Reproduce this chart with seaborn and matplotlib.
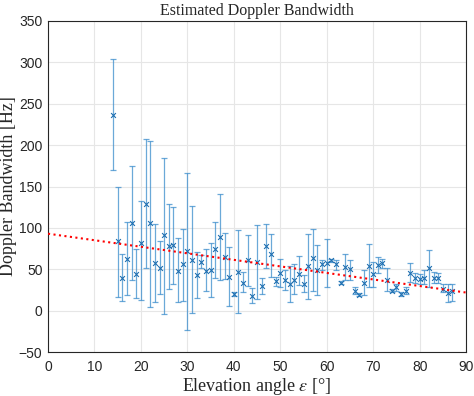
import numpy as np
import pandas as pd
import seaborn as sns
import matplotlib.pyplot as plt

# elevation angle [deg], estimated bandwidth [Hz], error bar ends [Hz]
elevation = [14, 15, 16, 17, 18, 19, 20, 21, 22, 23, 24, 25, 26, 27, 28, 29,
             30, 31, 32, 33, 34, 35, 36, 37, 38, 39, 40, 41, 42, 43, 44, 45,
             46, 47, 48, 49, 50, 51, 52, 53, 54, 55, 56, 57, 58, 59, 60, 61,
             62, 63, 64, 65, 66, 67, 68, 69, 70, 71, 72, 73, 74, 75, 76, 77,
             78, 79, 80, 81, 82, 83, 84, 85, 86, 87]
bandwidth = [237, 84, 40, 63, 106, 44, 82, 129, 106, 58, 52, 91, 78, 79, 48, 56,
             72, 61, 43, 59, 48, 49, 74, 89, 65, 41, 20, 47, 33, 61, 18, 59,
             30, 78, 68, 36, 46, 37, 32, 37, 44, 32, 54, 64, 49, 56, 58, 61,
             56, 34, 53, 50, 24, 19, 34, 54, 44, 55, 57, 37, 24, 28, 20, 24,
             46, 39, 38, 40, 51, 40, 40, 26, 21, 24]
upper = [304, 150, 69, 107, 175, 75, 132, 208, 205, 105, 84, 185, 129, 125, 88, 99,
         166, 126, 71, 67, 74, 82, 107, 141, 94, 77, 22, 98, 47, 91, 27, 104,
         39, 105, 93, 41, 62, 49, 54, 56, 66, 43, 93, 99, 79, 61, 86, 62,
         61, 36, 68, 61, 28, 21, 49, 80, 59, 65, 62, 51, 26, 32, 22, 28,
         58, 45, 44, 49, 73, 47, 45, 32, 32, 32]
lower = [170, 17, 12, 19, 37, 15, 13, 51, 5, 11, 20, -4, 26, 32, 11, 12,
         -23, -3, 15, 52, 24, 16, 39, 37, 38, 6, 18, -3, 22, 30, 9, 14,
         20, 51, 41, 30, 29, 25, 10, 20, 31, 22, 14, 24, 19, 49, 28, 59,
         49, 32, 37, 37, 20, 18, 19, 28, 29, 46, 51, 24, 22, 24, 18, 20,
         35, 34, 32, 32, 28, 34, 34, 22, 10, 12]

# linear fit shown in the figure
fit_intercept = 93.0
fit_slope = -0.79

df = pd.DataFrame({'elevation': elevation, 'bandwidth': bandwidth,
                   'upper': upper, 'lower': lower})
fit_x = np.array([0, 90])
df_fit = pd.DataFrame({'x': fit_x, 'y': fit_intercept + fit_slope * fit_x})

sns.set_theme(style='whitegrid')
plt.rcParams['font.family'] = ['Liberation Sans', 'DejaVu Sans']
plt.rcParams['mathtext.fontset'] = 'stix'

fig = plt.figure(figsize=(4.74, 3.96), dpi=100)
ax = fig.add_axes([0.1013, 0.111, 0.882, 0.836])

blue = '#3a8ccc'
yerr = [df['bandwidth'] - df['lower'], df['upper'] - df['bandwidth']]
ax.errorbar(df['elevation'], df['bandwidth'], yerr=yerr, fmt='none',
            ecolor=blue, elinewidth=0.9, capsize=2.5, capthick=0.9, alpha=0.75)
sns.scatterplot(data=df, x='elevation', y='bandwidth', marker='x', s=12,
                color='#1f6fb0', linewidth=0.8, ax=ax, zorder=3)
sns.lineplot(data=df_fit, x='x', y='y', color='red', linestyle=':',
             linewidth=1.5, ax=ax, zorder=4)

ax.set_xlim(0, 90)
ax.set_ylim(-50, 350)
ax.set_xticks(range(0, 91, 10))
ax.set_yticks(range(-50, 351, 50))
ax.grid(True, color='#e6e6e6', linewidth=0.8)
for s in ax.spines.values():
    s.set_color('#262626')
    s.set_linewidth(0.8)
ax.tick_params(direction='in', length=4, width=0.8, colors='#262626',
               labelsize=10, pad=4)
ax.tick_params(axis='x', pad=6)
ax.set_facecolor('white')

serif = ['Liberation Serif', 'DejaVu Serif']
ax.set_title('Estimated Doppler Bandwidth', family=serif, fontsize=11.5, pad=4)
ax.set_xlabel('Elevation angle $\\epsilon$ [°]', family=serif, fontsize=13, labelpad=1)
ax.set_ylabel('Doppler Bandwidth [Hz]', family=serif, fontsize=13, labelpad=1)

fig.savefig('out.png', dpi=100)
